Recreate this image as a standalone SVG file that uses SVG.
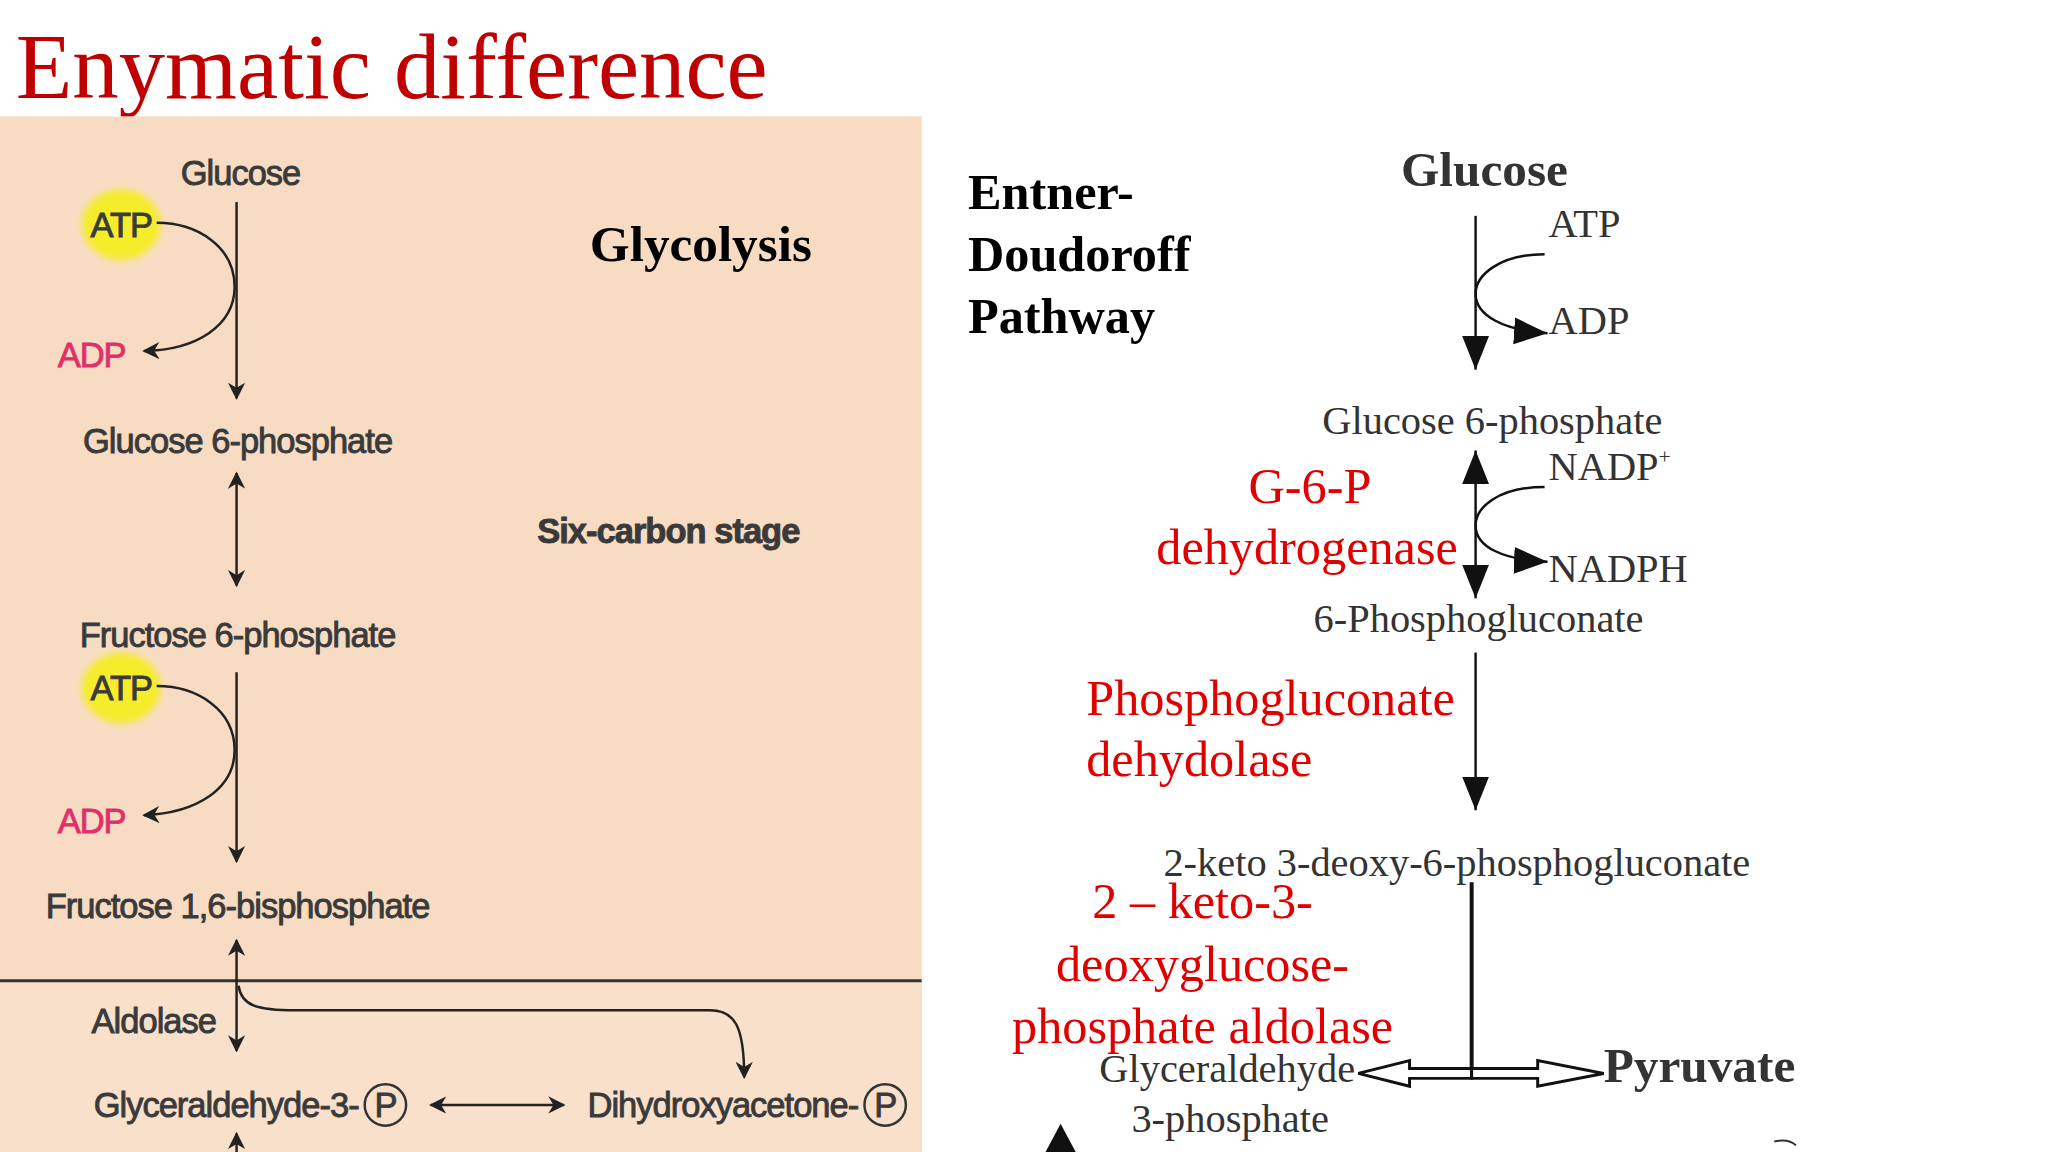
<svg xmlns="http://www.w3.org/2000/svg" width="2048" height="1152" viewBox="0 0 2048 1152">
<style>
.g{font-family:"Liberation Sans",Arial,sans-serif;font-size:35px;fill:#3a3a3a;stroke:#3a3a3a;stroke-width:0.9;text-anchor:middle;letter-spacing:-1px}
.st{text-anchor:start}
.s{font-family:"Liberation Serif","Times New Roman",serif;fill:#333;font-size:41px}
.m{text-anchor:middle}
.b{font-weight:bold;fill:#000}
.r{font-family:"Liberation Serif","Times New Roman",serif;fill:#e00000;font-size:51px}
.ln{stroke:#222;stroke-width:2.5;fill:none}
.k{stroke:#111;stroke-width:2.5;fill:none}
</style>
<defs>
<marker id="a" viewBox="0 0 10 10" refX="9" refY="5" markerWidth="7" markerHeight="7" orient="auto-start-reverse"><path d="M0,0 L10,5 L0,10 L3,5 z" fill="#222"/></marker>
<marker id="T" viewBox="0 0 10 10" refX="10" refY="5" markerWidth="34" markerHeight="34" markerUnits="userSpaceOnUse" orient="auto-start-reverse"><path d="M0,1 L10,5 L0,9 z" fill="#111"/></marker>
<filter id="bl"><feGaussianBlur stdDeviation="4"/></filter>
</defs>
<rect width="2048" height="1152" fill="#fff"/>
<g transform="scale(0.9857)">
<text x="16" y="99" font-family="Liberation Serif,Times New Roman,serif" font-size="94" fill="#c00000">Enymatic difference</text>
<g id="panel">
<rect x="0" y="118" width="935" height="1060" fill="#f7dcc3"/>
<rect x="0" y="996" width="935" height="182" fill="#f8e0ca"/>
<line x1="0" y1="995" x2="935" y2="995" stroke="#333" stroke-width="3"/>
</g>
<g id="glyco-labels">
<text x="711" y="265" class="s b m" style="font-size:52px">Glycolysis</text>
<text x="678" y="551" class="g" font-weight="bold">Six-carbon stage</text>
</g>
<g id="atp1"><ellipse cx="123" cy="228" rx="40" ry="36" fill="#f5ec2a" filter="url(#bl)"/><text x="123" y="240" class="g">ATP</text></g>
<g id="atp2"><ellipse cx="123" cy="698" rx="40" ry="36" fill="#f5ec2a" filter="url(#bl)"/><text x="123" y="710" class="g">ATP</text></g>
<g id="n-glucose"><text x="244" y="188" class="g">Glucose</text></g>
<g id="adp1"><text x="93" y="372" class="g" style="fill:#e0306a;stroke:#e0306a">ADP</text></g>
<g id="n-g6p"><text x="241" y="460" class="g">Glucose 6-phosphate</text></g>
<g id="n-f6p"><text x="241" y="656" class="g">Fructose 6-phosphate</text></g>
<g id="adp2"><text x="93" y="845" class="g" style="fill:#e0306a;stroke:#e0306a">ADP</text></g>
<g id="n-fbp"><text x="241" y="931" class="g">Fructose 1,6-bisphosphate</text></g>
<g id="aldolase"><text x="156" y="1048" class="g">Aldolase</text></g>
<g id="n-gap"><text x="95" y="1133" class="g st">Glyceraldehyde-3-</text><circle cx="391" cy="1121" r="21" fill="none" stroke="#333" stroke-width="2.5"/><text x="391" y="1133" class="g">P</text></g>
<g id="n-dhap"><text x="596" y="1133" class="g st">Dihydroxyacetone-</text><circle cx="898" cy="1121" r="21" fill="none" stroke="#333" stroke-width="2.5"/><text x="898" y="1133" class="g">P</text></g>
<g id="right-title">
<text x="982" y="212" class="s b" style="font-size:51px">Entner-</text>
<text x="982" y="275" class="s b" style="font-size:51px">Doudoroff</text>
<text x="982" y="338" class="s b" style="font-size:51px">Pathway</text>
</g>
<g id="ed-glucose"><text x="1506" y="189" class="s m" style="font-size:50px;font-weight:bold">Glucose</text></g>
<g id="ed-atp"><text x="1571" y="240" class="s">ATP</text><text x="1571" y="339" class="s">ADP</text></g>
<g id="ed-g6p"><text x="1514" y="440" class="s m">Glucose 6-phosphate</text></g>
<g id="ed-nadp"><text x="1571" y="487" class="s">NADP<tspan font-size="22" dy="-16">+</tspan></text><text x="1571" y="590" class="s">NADPH</text></g>
<g id="ed-6pg"><text x="1500" y="641" class="s m">6-Phosphogluconate</text></g>
<g id="ed-kdpg"><text x="1478" y="889" class="s m">2-keto 3-deoxy-6-phosphogluconate</text></g>
<g id="ed-gap"><text x="1245" y="1098" class="s m">Glyceraldehyde</text><text x="1248" y="1148" class="s m">3-phosphate</text></g>
<g id="ed-pyr"><text x="1627" y="1098" class="s" style="font-size:50px;font-weight:bold">Pyruvate</text></g>
<g id="enzymes">
<text x="1329" y="510" class="r m">G-6-P</text>
<text x="1326" y="572" class="r m">dehydrogenase</text>
<text x="1102" y="725" class="r">Phosphogluconate</text>
<text x="1102" y="787" class="r">dehydolase</text>
<text x="1220" y="931" class="r m">2 – keto-3-</text>
<text x="1220" y="995" class="r m">deoxyglucose-</text>
<text x="1220" y="1058" class="r m">phosphate aldolase</text>
</g>
<g id="connectors">
<line x1="240" y1="205" x2="240" y2="404" class="ln" marker-end="url(#a)"/>
<path d="M159,226 C200,226 238,250 238,291 C238,330 200,355 146,356" class="ln" marker-end="url(#a)"/>
<line x1="240" y1="480" x2="240" y2="594" class="ln" marker-start="url(#a)" marker-end="url(#a)"/>
<line x1="240" y1="682" x2="240" y2="874" class="ln" marker-end="url(#a)"/>
<path d="M159,696 C200,696 238,720 238,761 C238,800 200,825 146,827" class="ln" marker-end="url(#a)"/>
<line x1="240" y1="954" x2="240" y2="1066" class="ln" marker-start="url(#a)" marker-end="url(#a)"/>
<path d="M242,1000 C245,1020 260,1025 300,1025 L720,1025 C745,1025 755,1040 755,1093" class="ln" marker-end="url(#a)"/>
<line x1="437" y1="1121" x2="572" y2="1121" class="ln" marker-start="url(#a)" marker-end="url(#a)"/>
<line x1="240" y1="1170" x2="240" y2="1150" class="ln" marker-end="url(#a)"/>
<line x1="1497" y1="219" x2="1497" y2="375" class="k" marker-end="url(#T)"/>
<path d="M1567,258 C1520,258 1497,280 1497,298 C1497,320 1525,335 1570,338" class="k" marker-end="url(#T)"/>
<line x1="1497" y1="457" x2="1497" y2="607" class="k" marker-start="url(#T)" marker-end="url(#T)"/>
<path d="M1567,494 C1520,494 1497,515 1497,533 C1497,555 1525,568 1570,570" class="k" marker-end="url(#T)"/>
<line x1="1497" y1="662" x2="1497" y2="822" class="k" marker-end="url(#T)"/>
<line x1="1493" y1="895" x2="1493" y2="1093" stroke="#111" stroke-width="4"/>
<path d="M1493,1084 L1430,1084 L1430,1076 L1378,1089 L1430,1102 L1430,1094 L1493,1094 z" fill="#fff" stroke="#111" stroke-width="3"/>
<path d="M1493,1084 L1560,1084 L1560,1076 L1627,1089 L1560,1102 L1560,1094 L1493,1094 z" fill="#fff" stroke="#111" stroke-width="3"/>
<path d="M1060,1170 L1076,1140 L1092,1170 z" fill="#111"/>
<path d="M1800,1158 C1810,1156 1818,1158 1822,1162" fill="none" stroke="#333" stroke-width="2"/>
</g>
</g>
</svg>
